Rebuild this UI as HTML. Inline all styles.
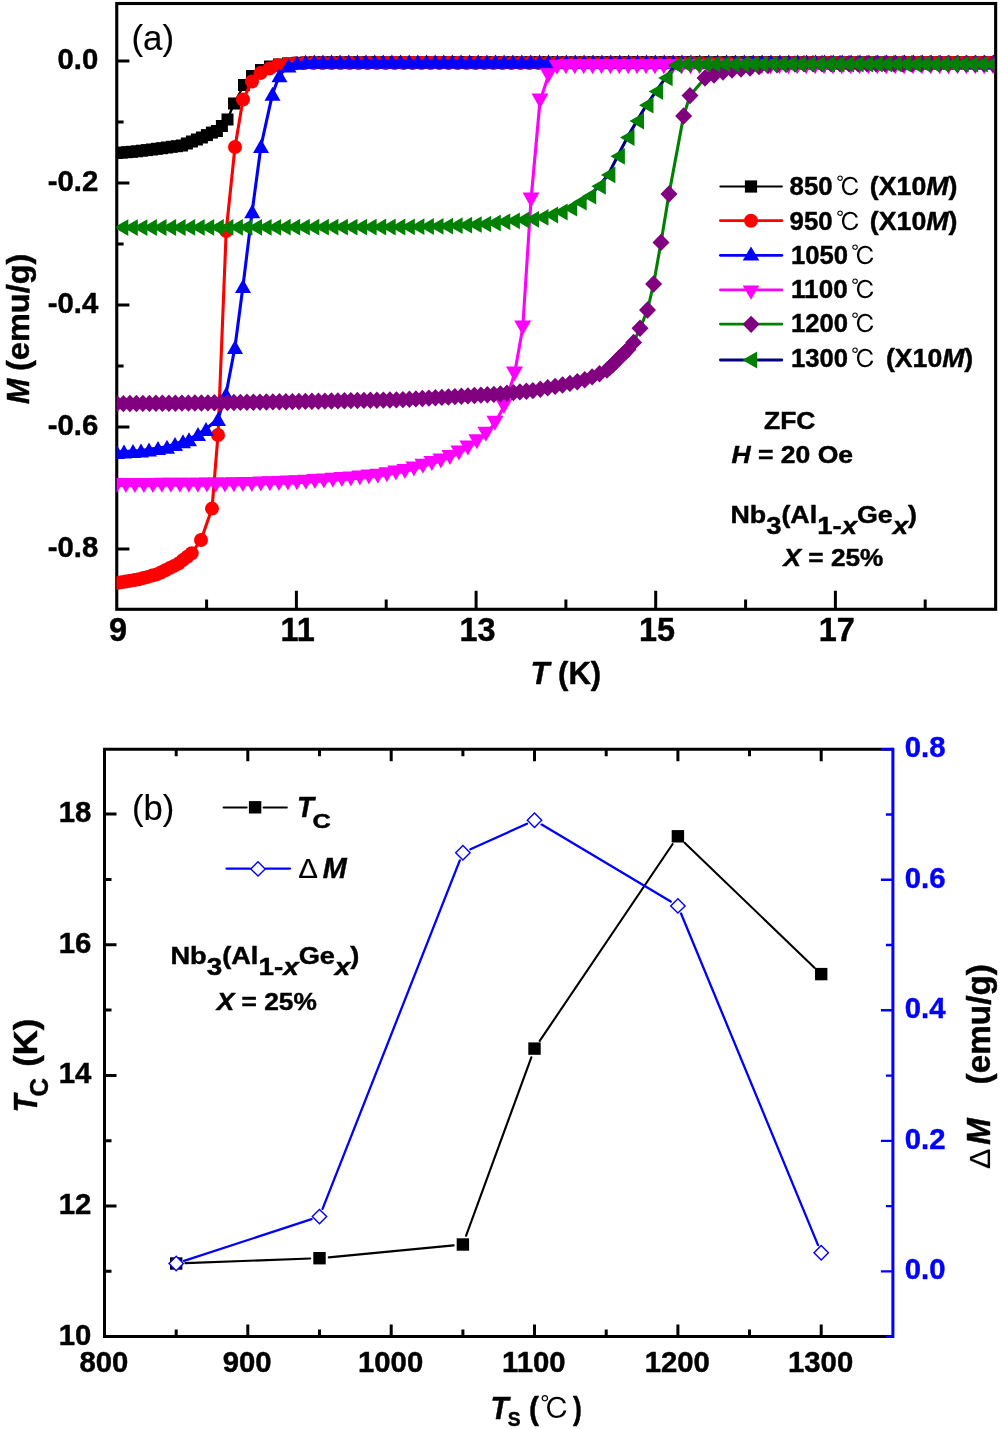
<!DOCTYPE html><html><head><meta charset="utf-8"><title>Figure</title><style>
html,body{margin:0;padding:0;background:#fff}
#fig{position:relative;width:1000px;height:1429px;overflow:hidden;background:#fff;font-family:"Liberation Sans","Noto Serif CJK SC",sans-serif;color:#000}
#fig svg{display:block}
</style></head><body><div id="fig"><svg width="1000" height="1429" viewBox="0 0 1000 1429" style="position:absolute;left:0;top:0"><defs><clipPath id="ca"><rect x="116.6" y="0" width="877.8" height="612"/></clipPath></defs><rect width="1000" height="1429" fill="#fff"/><rect x="116.75" y="3.5" width="878.9" height="605.8" fill="none" stroke="#000" stroke-width="3.1"/><path d="M116.8 61h12.6M116.8 122h6.8M116.8 183h12.6M116.8 244h6.8M116.8 305h12.6M116.8 366h6.8M116.8 427h12.6M116.8 549h12.6M206.6 609.3v-9.8M296.4 609.3v-18.6M386.2 609.3v-9.8M476.1 609.3v-18.6M565.9 609.3v-9.8M655.7 609.3v-18.6M745.6 609.3v-9.8M835.4 609.3v-18.6M925.2 609.3v-9.8" stroke="#000" stroke-width="3" fill="none"/><g clip-path="url(#ca)"><polyline points="116.9,153 121.9,152.6 126.9,152.2 131.9,151.8 136.9,151.3 141.9,150.7 146.9,150.1 151.9,149.5 156.9,148.8 161.9,148.2 166.9,147.5 171.9,146.8 176.9,146.2 181.9,145.5 186.9,143.5 191.9,141.5 196.9,139.5 201.9,137.5 206.9,135.1 211.9,132.6 216.9,131 221.9,126 227.5,119.5 234,103.5 244,85 252,76 261,70 270,66.5 279,64.5 288,63.4 297,62.9 306,62.5 315,62.3 324,62.3 333,62.3 342,62.3 351,62.3 360,62.3 369,62.3 378,62.3 387,62.3 396,62.3 405,62.3 414,62.3 423,62.3 432,62.3 441,62.3 450,62.3 459,62.3 468,62.3 477,62.3 486,62.3 495,62.3 504,62.3 513,62.3 522,62.3 531,62.3 540,62.3 549,62.3 558,62.3 567,62.3 576,62.3 585,62.3 594,62.2 603,62.2 612,62.2 621,62.2 630,62.2 639,62.2 648,62.2 657,62.2 666,62.2 675,62.2 684,62.2 693,62.2 702,62.2 711,62.2 720,62.2 729,62.2 738,62.2 747,62.2 756,62.2 765,62.2 774,62.2 783,62.2 792,62.2 801,62.2 810,62.2 819,62.2 828,62.2 837,62.2 846,62.2 855,62.2 864,62.2 873,62.2 882,62.2 891,62.2 900,62.2 909,62.2 918,62.2 927,62.2 936,62.2 945,62.2 954,62.2 963,62.2 972,62.2 981,62.2 990,62.2 999,62.2 1008,62.2" fill="none" stroke="#000" stroke-width="2.4" stroke-linejoin="round"/><rect x="110.9" y="147" width="12" height="12" fill="#000"/><rect x="115.9" y="146.6" width="12" height="12" fill="#000"/><rect x="120.9" y="146.2" width="12" height="12" fill="#000"/><rect x="125.9" y="145.8" width="12" height="12" fill="#000"/><rect x="130.9" y="145.3" width="12" height="12" fill="#000"/><rect x="135.9" y="144.7" width="12" height="12" fill="#000"/><rect x="140.9" y="144.1" width="12" height="12" fill="#000"/><rect x="145.9" y="143.5" width="12" height="12" fill="#000"/><rect x="150.9" y="142.8" width="12" height="12" fill="#000"/><rect x="155.9" y="142.2" width="12" height="12" fill="#000"/><rect x="160.9" y="141.5" width="12" height="12" fill="#000"/><rect x="165.9" y="140.8" width="12" height="12" fill="#000"/><rect x="170.9" y="140.2" width="12" height="12" fill="#000"/><rect x="175.9" y="139.5" width="12" height="12" fill="#000"/><rect x="180.9" y="137.5" width="12" height="12" fill="#000"/><rect x="185.9" y="135.5" width="12" height="12" fill="#000"/><rect x="190.9" y="133.5" width="12" height="12" fill="#000"/><rect x="195.9" y="131.5" width="12" height="12" fill="#000"/><rect x="200.9" y="129.1" width="12" height="12" fill="#000"/><rect x="205.9" y="126.6" width="12" height="12" fill="#000"/><rect x="210.9" y="125" width="12" height="12" fill="#000"/><rect x="215.9" y="120" width="12" height="12" fill="#000"/><rect x="221.5" y="113.5" width="12" height="12" fill="#000"/><rect x="228" y="97.5" width="12" height="12" fill="#000"/><rect x="238" y="79" width="12" height="12" fill="#000"/><rect x="246" y="70" width="12" height="12" fill="#000"/><rect x="255" y="64" width="12" height="12" fill="#000"/><rect x="264" y="60.5" width="12" height="12" fill="#000"/><rect x="273" y="58.5" width="12" height="12" fill="#000"/><rect x="282" y="57.4" width="12" height="12" fill="#000"/><rect x="291" y="56.9" width="12" height="12" fill="#000"/><rect x="300" y="56.5" width="12" height="12" fill="#000"/><rect x="309" y="56.3" width="12" height="12" fill="#000"/><rect x="318" y="56.3" width="12" height="12" fill="#000"/><rect x="327" y="56.3" width="12" height="12" fill="#000"/><rect x="336" y="56.3" width="12" height="12" fill="#000"/><rect x="345" y="56.3" width="12" height="12" fill="#000"/><rect x="354" y="56.3" width="12" height="12" fill="#000"/><rect x="363" y="56.3" width="12" height="12" fill="#000"/><rect x="372" y="56.3" width="12" height="12" fill="#000"/><rect x="381" y="56.3" width="12" height="12" fill="#000"/><rect x="390" y="56.3" width="12" height="12" fill="#000"/><rect x="399" y="56.3" width="12" height="12" fill="#000"/><rect x="408" y="56.3" width="12" height="12" fill="#000"/><rect x="417" y="56.3" width="12" height="12" fill="#000"/><rect x="426" y="56.3" width="12" height="12" fill="#000"/><rect x="435" y="56.3" width="12" height="12" fill="#000"/><rect x="444" y="56.3" width="12" height="12" fill="#000"/><rect x="453" y="56.3" width="12" height="12" fill="#000"/><rect x="462" y="56.3" width="12" height="12" fill="#000"/><rect x="471" y="56.3" width="12" height="12" fill="#000"/><rect x="480" y="56.3" width="12" height="12" fill="#000"/><rect x="489" y="56.3" width="12" height="12" fill="#000"/><rect x="498" y="56.3" width="12" height="12" fill="#000"/><rect x="507" y="56.3" width="12" height="12" fill="#000"/><rect x="516" y="56.3" width="12" height="12" fill="#000"/><rect x="525" y="56.3" width="12" height="12" fill="#000"/><rect x="534" y="56.3" width="12" height="12" fill="#000"/><rect x="543" y="56.3" width="12" height="12" fill="#000"/><rect x="552" y="56.3" width="12" height="12" fill="#000"/><rect x="561" y="56.3" width="12" height="12" fill="#000"/><rect x="570" y="56.3" width="12" height="12" fill="#000"/><rect x="579" y="56.3" width="12" height="12" fill="#000"/><rect x="588" y="56.2" width="12" height="12" fill="#000"/><rect x="597" y="56.2" width="12" height="12" fill="#000"/><rect x="606" y="56.2" width="12" height="12" fill="#000"/><rect x="615" y="56.2" width="12" height="12" fill="#000"/><rect x="624" y="56.2" width="12" height="12" fill="#000"/><rect x="633" y="56.2" width="12" height="12" fill="#000"/><rect x="642" y="56.2" width="12" height="12" fill="#000"/><rect x="651" y="56.2" width="12" height="12" fill="#000"/><rect x="660" y="56.2" width="12" height="12" fill="#000"/><rect x="669" y="56.2" width="12" height="12" fill="#000"/><rect x="678" y="56.2" width="12" height="12" fill="#000"/><rect x="687" y="56.2" width="12" height="12" fill="#000"/><rect x="696" y="56.2" width="12" height="12" fill="#000"/><rect x="705" y="56.2" width="12" height="12" fill="#000"/><rect x="714" y="56.2" width="12" height="12" fill="#000"/><rect x="723" y="56.2" width="12" height="12" fill="#000"/><rect x="732" y="56.2" width="12" height="12" fill="#000"/><rect x="741" y="56.2" width="12" height="12" fill="#000"/><rect x="750" y="56.2" width="12" height="12" fill="#000"/><rect x="759" y="56.2" width="12" height="12" fill="#000"/><rect x="768" y="56.2" width="12" height="12" fill="#000"/><rect x="777" y="56.2" width="12" height="12" fill="#000"/><rect x="786" y="56.2" width="12" height="12" fill="#000"/><rect x="795" y="56.2" width="12" height="12" fill="#000"/><rect x="804" y="56.2" width="12" height="12" fill="#000"/><rect x="813" y="56.2" width="12" height="12" fill="#000"/><rect x="822" y="56.2" width="12" height="12" fill="#000"/><rect x="831" y="56.2" width="12" height="12" fill="#000"/><rect x="840" y="56.2" width="12" height="12" fill="#000"/><rect x="849" y="56.2" width="12" height="12" fill="#000"/><rect x="858" y="56.2" width="12" height="12" fill="#000"/><rect x="867" y="56.2" width="12" height="12" fill="#000"/><rect x="876" y="56.2" width="12" height="12" fill="#000"/><rect x="885" y="56.2" width="12" height="12" fill="#000"/><rect x="894" y="56.2" width="12" height="12" fill="#000"/><rect x="903" y="56.2" width="12" height="12" fill="#000"/><rect x="912" y="56.2" width="12" height="12" fill="#000"/><rect x="921" y="56.2" width="12" height="12" fill="#000"/><rect x="930" y="56.2" width="12" height="12" fill="#000"/><rect x="939" y="56.2" width="12" height="12" fill="#000"/><rect x="948" y="56.2" width="12" height="12" fill="#000"/><rect x="957" y="56.2" width="12" height="12" fill="#000"/><rect x="966" y="56.2" width="12" height="12" fill="#000"/><rect x="975" y="56.2" width="12" height="12" fill="#000"/><rect x="984" y="56.2" width="12" height="12" fill="#000"/><rect x="993" y="56.2" width="12" height="12" fill="#000"/><rect x="1002" y="56.2" width="12" height="12" fill="#000"/><polyline points="116.9,583 121.3,582.2 125.7,581.5 130.1,580.7 134.5,580 138.9,579.2 143.3,578.1 147.7,576.9 152.1,575.6 156.5,574.4 160.9,572.5 165.3,570.3 169.7,568.1 174.1,565.9 178.5,563.6 182.9,560.1 187.3,556.7 191.7,553.2 201,540 212,508.6 218,435 226.2,231 235,147 243,99.5 252,81.5 260.5,73 269.5,68.5 277.5,65.3 286.5,64 295.5,63.3 304.5,63.1 313.5,63 322.5,63 331.5,63 340.5,63 349.5,63 358.5,63 367.5,63 376.5,63 385.5,63 394.5,63 403.5,63 412.5,63 421.5,63 430.5,63 439.5,63 448.5,63 457.5,63 466.5,63 475.5,63 484.5,63 493.5,63 502.5,63 511.5,63 520.5,63 529.5,63 538.5,63 547.5,63 556.5,63 565.5,63 574.5,63 583.5,63 592.5,63 601.5,63 610.5,63 619.5,63 628.5,63 637.5,63 646.5,63 655.5,63 664.5,63 673.5,63 682.5,63 691.5,63 700.5,63 709.5,63 718.5,63 727.5,63 736.5,63 745.5,63 754.5,63 763.5,63 772.5,63 781.5,63 790.5,63 799.5,63 808.5,63 817.5,63 826.5,63 835.5,63 844.5,63 853.5,63 862.5,63 871.5,63 880.5,63 889.5,63 898.5,63 907.5,63 916.5,63 925.5,63 934.5,63 943.5,63 952.5,63 961.5,63 970.5,63 979.5,63 988.5,63 997.5,63 1006.5,63" fill="none" stroke="#f00" stroke-width="3.1" stroke-linejoin="round"/><circle cx="116.9" cy="583" r="7" fill="#f00"/><circle cx="121.3" cy="582.2" r="7" fill="#f00"/><circle cx="125.7" cy="581.5" r="7" fill="#f00"/><circle cx="130.1" cy="580.7" r="7" fill="#f00"/><circle cx="134.5" cy="580" r="7" fill="#f00"/><circle cx="138.9" cy="579.2" r="7" fill="#f00"/><circle cx="143.3" cy="578.1" r="7" fill="#f00"/><circle cx="147.7" cy="576.9" r="7" fill="#f00"/><circle cx="152.1" cy="575.6" r="7" fill="#f00"/><circle cx="156.5" cy="574.4" r="7" fill="#f00"/><circle cx="160.9" cy="572.5" r="7" fill="#f00"/><circle cx="165.3" cy="570.3" r="7" fill="#f00"/><circle cx="169.7" cy="568.1" r="7" fill="#f00"/><circle cx="174.1" cy="565.9" r="7" fill="#f00"/><circle cx="178.5" cy="563.6" r="7" fill="#f00"/><circle cx="182.9" cy="560.1" r="7" fill="#f00"/><circle cx="187.3" cy="556.7" r="7" fill="#f00"/><circle cx="191.7" cy="553.2" r="7" fill="#f00"/><circle cx="201" cy="540" r="7" fill="#f00"/><circle cx="212" cy="508.6" r="7" fill="#f00"/><circle cx="218" cy="435" r="7" fill="#f00"/><circle cx="226.2" cy="231" r="7" fill="#f00"/><circle cx="235" cy="147" r="7" fill="#f00"/><circle cx="243" cy="99.5" r="7" fill="#f00"/><circle cx="252" cy="81.5" r="7" fill="#f00"/><circle cx="260.5" cy="73" r="7" fill="#f00"/><circle cx="269.5" cy="68.5" r="7" fill="#f00"/><circle cx="277.5" cy="65.3" r="7" fill="#f00"/><circle cx="286.5" cy="64" r="7" fill="#f00"/><circle cx="295.5" cy="63.3" r="7" fill="#f00"/><circle cx="304.5" cy="63.1" r="7" fill="#f00"/><circle cx="313.5" cy="63" r="7" fill="#f00"/><circle cx="322.5" cy="63" r="7" fill="#f00"/><circle cx="331.5" cy="63" r="7" fill="#f00"/><circle cx="340.5" cy="63" r="7" fill="#f00"/><circle cx="349.5" cy="63" r="7" fill="#f00"/><circle cx="358.5" cy="63" r="7" fill="#f00"/><circle cx="367.5" cy="63" r="7" fill="#f00"/><circle cx="376.5" cy="63" r="7" fill="#f00"/><circle cx="385.5" cy="63" r="7" fill="#f00"/><circle cx="394.5" cy="63" r="7" fill="#f00"/><circle cx="403.5" cy="63" r="7" fill="#f00"/><circle cx="412.5" cy="63" r="7" fill="#f00"/><circle cx="421.5" cy="63" r="7" fill="#f00"/><circle cx="430.5" cy="63" r="7" fill="#f00"/><circle cx="439.5" cy="63" r="7" fill="#f00"/><circle cx="448.5" cy="63" r="7" fill="#f00"/><circle cx="457.5" cy="63" r="7" fill="#f00"/><circle cx="466.5" cy="63" r="7" fill="#f00"/><circle cx="475.5" cy="63" r="7" fill="#f00"/><circle cx="484.5" cy="63" r="7" fill="#f00"/><circle cx="493.5" cy="63" r="7" fill="#f00"/><circle cx="502.5" cy="63" r="7" fill="#f00"/><circle cx="511.5" cy="63" r="7" fill="#f00"/><circle cx="520.5" cy="63" r="7" fill="#f00"/><circle cx="529.5" cy="63" r="7" fill="#f00"/><circle cx="538.5" cy="63" r="7" fill="#f00"/><circle cx="547.5" cy="63" r="7" fill="#f00"/><circle cx="556.5" cy="63" r="7" fill="#f00"/><circle cx="565.5" cy="63" r="7" fill="#f00"/><circle cx="574.5" cy="63" r="7" fill="#f00"/><circle cx="583.5" cy="63" r="7" fill="#f00"/><circle cx="592.5" cy="63" r="7" fill="#f00"/><circle cx="601.5" cy="63" r="7" fill="#f00"/><circle cx="610.5" cy="63" r="7" fill="#f00"/><circle cx="619.5" cy="63" r="7" fill="#f00"/><circle cx="628.5" cy="63" r="7" fill="#f00"/><circle cx="637.5" cy="63" r="7" fill="#f00"/><circle cx="646.5" cy="63" r="7" fill="#f00"/><circle cx="655.5" cy="63" r="7" fill="#f00"/><circle cx="664.5" cy="63" r="7" fill="#f00"/><circle cx="673.5" cy="63" r="7" fill="#f00"/><circle cx="682.5" cy="63" r="7" fill="#f00"/><circle cx="691.5" cy="63" r="7" fill="#f00"/><circle cx="700.5" cy="63" r="7" fill="#f00"/><circle cx="709.5" cy="63" r="7" fill="#f00"/><circle cx="718.5" cy="63" r="7" fill="#f00"/><circle cx="727.5" cy="63" r="7" fill="#f00"/><circle cx="736.5" cy="63" r="7" fill="#f00"/><circle cx="745.5" cy="63" r="7" fill="#f00"/><circle cx="754.5" cy="63" r="7" fill="#f00"/><circle cx="763.5" cy="63" r="7" fill="#f00"/><circle cx="772.5" cy="63" r="7" fill="#f00"/><circle cx="781.5" cy="63" r="7" fill="#f00"/><circle cx="790.5" cy="63" r="7" fill="#f00"/><circle cx="799.5" cy="63" r="7" fill="#f00"/><circle cx="808.5" cy="63" r="7" fill="#f00"/><circle cx="817.5" cy="63" r="7" fill="#f00"/><circle cx="826.5" cy="63" r="7" fill="#f00"/><circle cx="835.5" cy="63" r="7" fill="#f00"/><circle cx="844.5" cy="63" r="7" fill="#f00"/><circle cx="853.5" cy="63" r="7" fill="#f00"/><circle cx="862.5" cy="63" r="7" fill="#f00"/><circle cx="871.5" cy="63" r="7" fill="#f00"/><circle cx="880.5" cy="63" r="7" fill="#f00"/><circle cx="889.5" cy="63" r="7" fill="#f00"/><circle cx="898.5" cy="63" r="7" fill="#f00"/><circle cx="907.5" cy="63" r="7" fill="#f00"/><circle cx="916.5" cy="63" r="7" fill="#f00"/><circle cx="925.5" cy="63" r="7" fill="#f00"/><circle cx="934.5" cy="63" r="7" fill="#f00"/><circle cx="943.5" cy="63" r="7" fill="#f00"/><circle cx="952.5" cy="63" r="7" fill="#f00"/><circle cx="961.5" cy="63" r="7" fill="#f00"/><circle cx="970.5" cy="63" r="7" fill="#f00"/><circle cx="979.5" cy="63" r="7" fill="#f00"/><circle cx="988.5" cy="63" r="7" fill="#f00"/><circle cx="997.5" cy="63" r="7" fill="#f00"/><circle cx="1006.5" cy="63" r="7" fill="#f00"/><polyline points="116.9,452 124,451.6 133,451 141,450.5 149,449.4 158,448.1 167,446.7 175,444 183,441.3 189,439.3 198,434 206,429 218,419 226,394 235,347 243,286 252.2,211.2 261,146 272.5,93.8 279.5,75.3 288.5,65.5 297,62.7 305.6,61.8 314.3,61.4 322.9,61.4 331.5,61.4 340.1,61.4 348.8,61.4 357.4,61.4 366,61.4 374.7,61.4 383.3,61.4 391.9,61.4 400.6,61.4 409.2,61.4 417.8,61.4 426.5,61.4 435.1,61.4 443.7,61.4 452.3,61.4 461,61.4 469.6,61.4 478.2,61.4 486.9,61.4 495.5,61.4 504.1,61.4 512.9,61.4 521.8,61.4 530.7,61.4 539.6,61.4 548.5,61.4 557.4,61.4 566.3,61.4 575.2,61.4 584.1,61.4 593,61.4 601.9,61.4 610.8,61.4 619.7,61.4 628.6,61.4 637.5,61.4 646.4,61.4 655.3,61.4 664.2,61.4 673.1,61.4 682,61.4 690.9,61.4 699.8,61.4 708.7,61.4 717.6,61.4 726.5,61.4 735.4,61.4 744.3,61.4 753.2,61.4 762.1,61.4 771,61.4 779.9,61.4 788.8,61.4 797.7,61.4 806.6,61.4 815.5,61.4 824.4,61.4 833.3,61.4 842.2,61.4 851.1,61.4 860,61.4 868.9,61.4 877.8,61.4 886.7,61.4 895.6,61.4 904.5,61.4 913.4,61.4 922.3,61.4 931.2,61.4 940.1,61.4 949,61.4 957.9,61.4 966.8,61.4 975.7,61.4 984.6,61.4 993.5,61.4 1002.4,61.4" fill="none" stroke="#00f" stroke-width="3.1" stroke-linejoin="round"/><path d="M108.9 459L124.9 459L116.9 445Z" fill="#00f"/><path d="M116 458.6L132 458.6L124 444.6Z" fill="#00f"/><path d="M125 458L141 458L133 444Z" fill="#00f"/><path d="M133 457.5L149 457.5L141 443.5Z" fill="#00f"/><path d="M141 456.4L157 456.4L149 442.4Z" fill="#00f"/><path d="M150 455.1L166 455.1L158 441.1Z" fill="#00f"/><path d="M159 453.7L175 453.7L167 439.7Z" fill="#00f"/><path d="M167 451L183 451L175 437Z" fill="#00f"/><path d="M175 448.3L191 448.3L183 434.3Z" fill="#00f"/><path d="M181 446.3L197 446.3L189 432.3Z" fill="#00f"/><path d="M190 441L206 441L198 427Z" fill="#00f"/><path d="M198 436L214 436L206 422Z" fill="#00f"/><path d="M210 426L226 426L218 412Z" fill="#00f"/><path d="M218 401L234 401L226 387Z" fill="#00f"/><path d="M227 354L243 354L235 340Z" fill="#00f"/><path d="M235 293L251 293L243 279Z" fill="#00f"/><path d="M244.2 218.2L260.2 218.2L252.2 204.2Z" fill="#00f"/><path d="M253 153L269 153L261 139Z" fill="#00f"/><path d="M264.5 100.8L280.5 100.8L272.5 86.8Z" fill="#00f"/><path d="M271.5 82.3L287.5 82.3L279.5 68.3Z" fill="#00f"/><path d="M280.5 72.5L296.5 72.5L288.5 58.5Z" fill="#00f"/><path d="M289 69.7L305 69.7L297 55.7Z" fill="#00f"/><path d="M297.6 68.8L313.6 68.8L305.6 54.8Z" fill="#00f"/><path d="M306.3 68.4L322.3 68.4L314.3 54.4Z" fill="#00f"/><path d="M314.9 68.4L330.9 68.4L322.9 54.4Z" fill="#00f"/><path d="M323.5 68.4L339.5 68.4L331.5 54.4Z" fill="#00f"/><path d="M332.1 68.4L348.1 68.4L340.1 54.4Z" fill="#00f"/><path d="M340.8 68.4L356.8 68.4L348.8 54.4Z" fill="#00f"/><path d="M349.4 68.4L365.4 68.4L357.4 54.4Z" fill="#00f"/><path d="M358 68.4L374 68.4L366 54.4Z" fill="#00f"/><path d="M366.7 68.4L382.7 68.4L374.7 54.4Z" fill="#00f"/><path d="M375.3 68.4L391.3 68.4L383.3 54.4Z" fill="#00f"/><path d="M383.9 68.4L399.9 68.4L391.9 54.4Z" fill="#00f"/><path d="M392.6 68.4L408.6 68.4L400.6 54.4Z" fill="#00f"/><path d="M401.2 68.4L417.2 68.4L409.2 54.4Z" fill="#00f"/><path d="M409.8 68.4L425.8 68.4L417.8 54.4Z" fill="#00f"/><path d="M418.5 68.4L434.5 68.4L426.5 54.4Z" fill="#00f"/><path d="M427.1 68.4L443.1 68.4L435.1 54.4Z" fill="#00f"/><path d="M435.7 68.4L451.7 68.4L443.7 54.4Z" fill="#00f"/><path d="M444.3 68.4L460.3 68.4L452.3 54.4Z" fill="#00f"/><path d="M453 68.4L469 68.4L461 54.4Z" fill="#00f"/><path d="M461.6 68.4L477.6 68.4L469.6 54.4Z" fill="#00f"/><path d="M470.2 68.4L486.2 68.4L478.2 54.4Z" fill="#00f"/><path d="M478.9 68.4L494.9 68.4L486.9 54.4Z" fill="#00f"/><path d="M487.5 68.4L503.5 68.4L495.5 54.4Z" fill="#00f"/><path d="M496.1 68.4L512.1 68.4L504.1 54.4Z" fill="#00f"/><path d="M504.9 68.4L520.9 68.4L512.9 54.4Z" fill="#00f"/><path d="M513.8 68.4L529.8 68.4L521.8 54.4Z" fill="#00f"/><path d="M522.7 68.4L538.7 68.4L530.7 54.4Z" fill="#00f"/><path d="M531.6 68.4L547.6 68.4L539.6 54.4Z" fill="#00f"/><path d="M540.5 68.4L556.5 68.4L548.5 54.4Z" fill="#00f"/><path d="M549.4 68.4L565.4 68.4L557.4 54.4Z" fill="#00f"/><path d="M558.3 68.4L574.3 68.4L566.3 54.4Z" fill="#00f"/><path d="M567.2 68.4L583.2 68.4L575.2 54.4Z" fill="#00f"/><path d="M576.1 68.4L592.1 68.4L584.1 54.4Z" fill="#00f"/><path d="M585 68.4L601 68.4L593 54.4Z" fill="#00f"/><path d="M593.9 68.4L609.9 68.4L601.9 54.4Z" fill="#00f"/><path d="M602.8 68.4L618.8 68.4L610.8 54.4Z" fill="#00f"/><path d="M611.7 68.4L627.7 68.4L619.7 54.4Z" fill="#00f"/><path d="M620.6 68.4L636.6 68.4L628.6 54.4Z" fill="#00f"/><path d="M629.5 68.4L645.5 68.4L637.5 54.4Z" fill="#00f"/><path d="M638.4 68.4L654.4 68.4L646.4 54.4Z" fill="#00f"/><path d="M647.3 68.4L663.3 68.4L655.3 54.4Z" fill="#00f"/><path d="M656.2 68.4L672.2 68.4L664.2 54.4Z" fill="#00f"/><path d="M665.1 68.4L681.1 68.4L673.1 54.4Z" fill="#00f"/><path d="M674 68.4L690 68.4L682 54.4Z" fill="#00f"/><path d="M682.9 68.4L698.9 68.4L690.9 54.4Z" fill="#00f"/><path d="M691.8 68.4L707.8 68.4L699.8 54.4Z" fill="#00f"/><path d="M700.7 68.4L716.7 68.4L708.7 54.4Z" fill="#00f"/><path d="M709.6 68.4L725.6 68.4L717.6 54.4Z" fill="#00f"/><path d="M718.5 68.4L734.5 68.4L726.5 54.4Z" fill="#00f"/><path d="M727.4 68.4L743.4 68.4L735.4 54.4Z" fill="#00f"/><path d="M736.3 68.4L752.3 68.4L744.3 54.4Z" fill="#00f"/><path d="M745.2 68.4L761.2 68.4L753.2 54.4Z" fill="#00f"/><path d="M754.1 68.4L770.1 68.4L762.1 54.4Z" fill="#00f"/><path d="M763 68.4L779 68.4L771 54.4Z" fill="#00f"/><path d="M771.9 68.4L787.9 68.4L779.9 54.4Z" fill="#00f"/><path d="M780.8 68.4L796.8 68.4L788.8 54.4Z" fill="#00f"/><path d="M789.7 68.4L805.7 68.4L797.7 54.4Z" fill="#00f"/><path d="M798.6 68.4L814.6 68.4L806.6 54.4Z" fill="#00f"/><path d="M807.5 68.4L823.5 68.4L815.5 54.4Z" fill="#00f"/><path d="M816.4 68.4L832.4 68.4L824.4 54.4Z" fill="#00f"/><path d="M825.3 68.4L841.3 68.4L833.3 54.4Z" fill="#00f"/><path d="M834.2 68.4L850.2 68.4L842.2 54.4Z" fill="#00f"/><path d="M843.1 68.4L859.1 68.4L851.1 54.4Z" fill="#00f"/><path d="M852 68.4L868 68.4L860 54.4Z" fill="#00f"/><path d="M860.9 68.4L876.9 68.4L868.9 54.4Z" fill="#00f"/><path d="M869.8 68.4L885.8 68.4L877.8 54.4Z" fill="#00f"/><path d="M878.7 68.4L894.7 68.4L886.7 54.4Z" fill="#00f"/><path d="M887.6 68.4L903.6 68.4L895.6 54.4Z" fill="#00f"/><path d="M896.5 68.4L912.5 68.4L904.5 54.4Z" fill="#00f"/><path d="M905.4 68.4L921.4 68.4L913.4 54.4Z" fill="#00f"/><path d="M914.3 68.4L930.3 68.4L922.3 54.4Z" fill="#00f"/><path d="M923.2 68.4L939.2 68.4L931.2 54.4Z" fill="#00f"/><path d="M932.1 68.4L948.1 68.4L940.1 54.4Z" fill="#00f"/><path d="M941 68.4L957 68.4L949 54.4Z" fill="#00f"/><path d="M949.9 68.4L965.9 68.4L957.9 54.4Z" fill="#00f"/><path d="M958.8 68.4L974.8 68.4L966.8 54.4Z" fill="#00f"/><path d="M967.7 68.4L983.7 68.4L975.7 54.4Z" fill="#00f"/><path d="M976.6 68.4L992.6 68.4L984.6 54.4Z" fill="#00f"/><path d="M985.5 68.4L1001.5 68.4L993.5 54.4Z" fill="#00f"/><path d="M994.4 68.4L1010.4 68.4L1002.4 54.4Z" fill="#00f"/><polyline points="116.9,485.5 125.9,485.5 134.9,485.4 143.9,485.4 152.9,485.4 161.9,485.3 170.9,485.3 179.9,485.3 188.9,485.2 197.9,485.2 206.9,485.1 215.9,485 224.9,484.9 233.9,484.7 242.9,484.6 251.9,484.4 260.9,484.1 269.9,483.8 278.9,483.5 287.9,483.1 296.9,482.8 305.9,482.3 314.9,481.6 323.9,480.9 332.9,480.3 341.9,479.6 350.9,478.9 359.9,478 368.9,477.1 377.9,476.2 386.9,474.8 395.9,473.1 404.9,471.5 413.9,469 422.9,466.3 431.9,463.6 440.9,460.9 449.9,457.4 458.9,453.1 467.9,448.1 476.9,441.8 485.9,434.2 494.9,423.2 503.9,406.6 514.5,374 522.7,328 531,200 540,101 548.4,75.7 557,67.2 565.9,66.8 574.8,66.8 583.7,66.8 592.6,66.8 601.5,66.8 610.4,66.8 619.3,66.8 628.2,66.8 637.1,66.8 646,66.8 654.9,66.8 663.8,66.8 672.7,66.8 681.6,66.8 690.5,66.8 699.4,66.8 708.3,66.8 717.2,66.8 726.1,66.8 735,66.8 743.9,66.8 752.8,66.8 761.7,66.8 770.6,66.8 779.5,66.8 788.4,66.8 797.3,66.8 806.2,66.8 815.1,66.8 824,66.8 832.9,66.8 841.8,66.8 850.7,66.8 859.6,66.8 868.5,66.8 877.4,66.8 886.3,66.8 895.2,66.8 904.1,66.8 913,66.8 921.9,66.8 930.8,66.7 939.7,66.7 948.6,66.7 957.5,66.7 966.4,66.7 975.3,66.7 984.2,66.7 993.1,66.7 1002,66.7" fill="none" stroke="#f0f" stroke-width="3.1" stroke-linejoin="round"/><path d="M108.4 478L125.4 478L116.9 493Z" fill="#f0f"/><path d="M117.4 478L134.4 478L125.9 493Z" fill="#f0f"/><path d="M126.4 477.9L143.4 477.9L134.9 492.9Z" fill="#f0f"/><path d="M135.4 477.9L152.4 477.9L143.9 492.9Z" fill="#f0f"/><path d="M144.4 477.9L161.4 477.9L152.9 492.9Z" fill="#f0f"/><path d="M153.4 477.8L170.4 477.8L161.9 492.8Z" fill="#f0f"/><path d="M162.4 477.8L179.4 477.8L170.9 492.8Z" fill="#f0f"/><path d="M171.4 477.8L188.4 477.8L179.9 492.8Z" fill="#f0f"/><path d="M180.4 477.7L197.4 477.7L188.9 492.7Z" fill="#f0f"/><path d="M189.4 477.7L206.4 477.7L197.9 492.7Z" fill="#f0f"/><path d="M198.4 477.6L215.4 477.6L206.9 492.6Z" fill="#f0f"/><path d="M207.4 477.5L224.4 477.5L215.9 492.5Z" fill="#f0f"/><path d="M216.4 477.4L233.4 477.4L224.9 492.4Z" fill="#f0f"/><path d="M225.4 477.2L242.4 477.2L233.9 492.2Z" fill="#f0f"/><path d="M234.4 477.1L251.4 477.1L242.9 492.1Z" fill="#f0f"/><path d="M243.4 476.9L260.4 476.9L251.9 491.9Z" fill="#f0f"/><path d="M252.4 476.6L269.4 476.6L260.9 491.6Z" fill="#f0f"/><path d="M261.4 476.3L278.4 476.3L269.9 491.3Z" fill="#f0f"/><path d="M270.4 476L287.4 476L278.9 491Z" fill="#f0f"/><path d="M279.4 475.6L296.4 475.6L287.9 490.6Z" fill="#f0f"/><path d="M288.4 475.3L305.4 475.3L296.9 490.3Z" fill="#f0f"/><path d="M297.4 474.8L314.4 474.8L305.9 489.8Z" fill="#f0f"/><path d="M306.4 474.1L323.4 474.1L314.9 489.1Z" fill="#f0f"/><path d="M315.4 473.4L332.4 473.4L323.9 488.4Z" fill="#f0f"/><path d="M324.4 472.8L341.4 472.8L332.9 487.8Z" fill="#f0f"/><path d="M333.4 472.1L350.4 472.1L341.9 487.1Z" fill="#f0f"/><path d="M342.4 471.4L359.4 471.4L350.9 486.4Z" fill="#f0f"/><path d="M351.4 470.5L368.4 470.5L359.9 485.5Z" fill="#f0f"/><path d="M360.4 469.6L377.4 469.6L368.9 484.6Z" fill="#f0f"/><path d="M369.4 468.7L386.4 468.7L377.9 483.7Z" fill="#f0f"/><path d="M378.4 467.3L395.4 467.3L386.9 482.3Z" fill="#f0f"/><path d="M387.4 465.6L404.4 465.6L395.9 480.6Z" fill="#f0f"/><path d="M396.4 464L413.4 464L404.9 479Z" fill="#f0f"/><path d="M405.4 461.5L422.4 461.5L413.9 476.5Z" fill="#f0f"/><path d="M414.4 458.8L431.4 458.8L422.9 473.8Z" fill="#f0f"/><path d="M423.4 456.1L440.4 456.1L431.9 471.1Z" fill="#f0f"/><path d="M432.4 453.4L449.4 453.4L440.9 468.4Z" fill="#f0f"/><path d="M441.4 449.9L458.4 449.9L449.9 464.9Z" fill="#f0f"/><path d="M450.4 445.6L467.4 445.6L458.9 460.6Z" fill="#f0f"/><path d="M459.4 440.6L476.4 440.6L467.9 455.6Z" fill="#f0f"/><path d="M468.4 434.3L485.4 434.3L476.9 449.3Z" fill="#f0f"/><path d="M477.4 426.7L494.4 426.7L485.9 441.7Z" fill="#f0f"/><path d="M486.4 415.7L503.4 415.7L494.9 430.7Z" fill="#f0f"/><path d="M495.4 399.1L512.4 399.1L503.9 414.1Z" fill="#f0f"/><path d="M506 366.5L523 366.5L514.5 381.5Z" fill="#f0f"/><path d="M514.2 320.5L531.2 320.5L522.7 335.5Z" fill="#f0f"/><path d="M522.5 192.5L539.5 192.5L531 207.5Z" fill="#f0f"/><path d="M531.5 93.5L548.5 93.5L540 108.5Z" fill="#f0f"/><path d="M539.9 68.2L556.9 68.2L548.4 83.2Z" fill="#f0f"/><path d="M548.5 59.7L565.5 59.7L557 74.7Z" fill="#f0f"/><path d="M557.4 59.3L574.4 59.3L565.9 74.3Z" fill="#f0f"/><path d="M566.3 59.3L583.3 59.3L574.8 74.3Z" fill="#f0f"/><path d="M575.2 59.3L592.2 59.3L583.7 74.3Z" fill="#f0f"/><path d="M584.1 59.3L601.1 59.3L592.6 74.3Z" fill="#f0f"/><path d="M593 59.3L610 59.3L601.5 74.3Z" fill="#f0f"/><path d="M601.9 59.3L618.9 59.3L610.4 74.3Z" fill="#f0f"/><path d="M610.8 59.3L627.8 59.3L619.3 74.3Z" fill="#f0f"/><path d="M619.7 59.3L636.7 59.3L628.2 74.3Z" fill="#f0f"/><path d="M628.6 59.3L645.6 59.3L637.1 74.3Z" fill="#f0f"/><path d="M637.5 59.3L654.5 59.3L646 74.3Z" fill="#f0f"/><path d="M646.4 59.3L663.4 59.3L654.9 74.3Z" fill="#f0f"/><path d="M655.3 59.3L672.3 59.3L663.8 74.3Z" fill="#f0f"/><path d="M664.2 59.3L681.2 59.3L672.7 74.3Z" fill="#f0f"/><path d="M673.1 59.3L690.1 59.3L681.6 74.3Z" fill="#f0f"/><path d="M682 59.3L699 59.3L690.5 74.3Z" fill="#f0f"/><path d="M690.9 59.3L707.9 59.3L699.4 74.3Z" fill="#f0f"/><path d="M699.8 59.3L716.8 59.3L708.3 74.3Z" fill="#f0f"/><path d="M708.7 59.3L725.7 59.3L717.2 74.3Z" fill="#f0f"/><path d="M717.6 59.3L734.6 59.3L726.1 74.3Z" fill="#f0f"/><path d="M726.5 59.3L743.5 59.3L735 74.3Z" fill="#f0f"/><path d="M735.4 59.3L752.4 59.3L743.9 74.3Z" fill="#f0f"/><path d="M744.3 59.3L761.3 59.3L752.8 74.3Z" fill="#f0f"/><path d="M753.2 59.3L770.2 59.3L761.7 74.3Z" fill="#f0f"/><path d="M762.1 59.3L779.1 59.3L770.6 74.3Z" fill="#f0f"/><path d="M771 59.3L788 59.3L779.5 74.3Z" fill="#f0f"/><path d="M779.9 59.3L796.9 59.3L788.4 74.3Z" fill="#f0f"/><path d="M788.8 59.3L805.8 59.3L797.3 74.3Z" fill="#f0f"/><path d="M797.7 59.3L814.7 59.3L806.2 74.3Z" fill="#f0f"/><path d="M806.6 59.3L823.6 59.3L815.1 74.3Z" fill="#f0f"/><path d="M815.5 59.3L832.5 59.3L824 74.3Z" fill="#f0f"/><path d="M824.4 59.3L841.4 59.3L832.9 74.3Z" fill="#f0f"/><path d="M833.3 59.3L850.3 59.3L841.8 74.3Z" fill="#f0f"/><path d="M842.2 59.3L859.2 59.3L850.7 74.3Z" fill="#f0f"/><path d="M851.1 59.3L868.1 59.3L859.6 74.3Z" fill="#f0f"/><path d="M860 59.3L877 59.3L868.5 74.3Z" fill="#f0f"/><path d="M868.9 59.3L885.9 59.3L877.4 74.3Z" fill="#f0f"/><path d="M877.8 59.3L894.8 59.3L886.3 74.3Z" fill="#f0f"/><path d="M886.7 59.3L903.7 59.3L895.2 74.3Z" fill="#f0f"/><path d="M895.6 59.3L912.6 59.3L904.1 74.3Z" fill="#f0f"/><path d="M904.5 59.3L921.5 59.3L913 74.3Z" fill="#f0f"/><path d="M913.4 59.3L930.4 59.3L921.9 74.3Z" fill="#f0f"/><path d="M922.3 59.2L939.3 59.2L930.8 74.2Z" fill="#f0f"/><path d="M931.2 59.2L948.2 59.2L939.7 74.2Z" fill="#f0f"/><path d="M940.1 59.2L957.1 59.2L948.6 74.2Z" fill="#f0f"/><path d="M949 59.2L966 59.2L957.5 74.2Z" fill="#f0f"/><path d="M957.9 59.2L974.9 59.2L966.4 74.2Z" fill="#f0f"/><path d="M966.8 59.2L983.8 59.2L975.3 74.2Z" fill="#f0f"/><path d="M975.7 59.2L992.7 59.2L984.2 74.2Z" fill="#f0f"/><path d="M984.6 59.2L1001.6 59.2L993.1 74.2Z" fill="#f0f"/><path d="M993.5 59.2L1010.5 59.2L1002 74.2Z" fill="#f0f"/><polyline points="116.9,403.6 123.4,403.6 129.9,403.5 136.4,403.5 142.9,403.4 149.4,403.4 155.9,403.3 162.4,403.3 168.9,403.2 175.4,403.2 181.9,403.1 188.4,403.1 194.9,403 201.4,403 207.9,402.9 214.4,402.8 220.9,402.7 227.4,402.6 233.9,402.5 240.4,402.4 246.9,402.3 253.4,402.2 259.9,402.1 266.4,402 272.9,401.9 279.4,401.8 285.9,401.7 292.4,401.6 298.9,401.5 305.4,401.4 311.9,401.3 318.4,401.2 324.9,401.1 331.4,401 337.9,400.9 344.4,400.7 350.9,400.6 357.4,400.5 363.9,400.4 370.4,400.3 376.9,400.2 383.4,400.1 389.9,400 396.4,399.9 402.9,399.6 409.4,399.3 415.9,398.9 422.4,398.5 428.9,398.1 435.4,397.7 441.9,397.4 448.4,397 454.9,396.6 461.4,396.2 467.9,395.9 474.4,395.5 480.9,395.1 487.4,394.7 493.9,394.4 500.4,394 506.9,393.3 513.4,392.6 519.9,391.9 526.4,391.3 532.9,390.6 540.3,389.2 547.7,387.8 555.1,386.4 562.5,385 569.9,383.4 577.3,381.8 584.7,379.7 592.1,376.9 599.5,373.8 606.9,370.1 609.9,367.4 612.9,364.6 615.9,361.5 618.9,358.3 621.9,355.4 624.9,352.5 627.9,349.6 633.6,342.4 640,328.3 647.5,310 653.6,284 661,242.4 669,194 683.6,116 690,95.6 705,78 714,75 723,72 732,70 741,69 750,68 759,66.5 768,65.6 777,64.8 786,64.3 795,64 804,63.8 813,63.8 822,63.8 831,63.8 840,63.8 849,63.8 858,63.8 867,63.8 876,63.8 885,63.8 894,63.8 903,63.8 912,63.8 921,63.8 930,63.8 939,63.8 948,63.8 957,63.8 966,63.8 975,63.8 984,63.8 993,63.8 1002,63.8" fill="none" stroke="#008000" stroke-width="3.1" stroke-linejoin="round"/><path d="M108.4 403.6L116.9 394.9L125.4 403.6L116.9 412.3Z" fill="#800080"/><path d="M114.9 403.6L123.4 394.9L131.9 403.6L123.4 412.3Z" fill="#800080"/><path d="M121.4 403.5L129.9 394.8L138.4 403.5L129.9 412.2Z" fill="#800080"/><path d="M127.9 403.5L136.4 394.8L144.9 403.5L136.4 412.2Z" fill="#800080"/><path d="M134.4 403.4L142.9 394.7L151.4 403.4L142.9 412.1Z" fill="#800080"/><path d="M140.9 403.4L149.4 394.7L157.9 403.4L149.4 412.1Z" fill="#800080"/><path d="M147.4 403.3L155.9 394.6L164.4 403.3L155.9 412Z" fill="#800080"/><path d="M153.9 403.3L162.4 394.6L170.9 403.3L162.4 412Z" fill="#800080"/><path d="M160.4 403.2L168.9 394.5L177.4 403.2L168.9 411.9Z" fill="#800080"/><path d="M166.9 403.2L175.4 394.5L183.9 403.2L175.4 411.9Z" fill="#800080"/><path d="M173.4 403.1L181.9 394.4L190.4 403.1L181.9 411.8Z" fill="#800080"/><path d="M179.9 403.1L188.4 394.4L196.9 403.1L188.4 411.8Z" fill="#800080"/><path d="M186.4 403L194.9 394.3L203.4 403L194.9 411.7Z" fill="#800080"/><path d="M192.9 403L201.4 394.3L209.9 403L201.4 411.7Z" fill="#800080"/><path d="M199.4 402.9L207.9 394.2L216.4 402.9L207.9 411.6Z" fill="#800080"/><path d="M205.9 402.8L214.4 394.1L222.9 402.8L214.4 411.5Z" fill="#800080"/><path d="M212.4 402.7L220.9 394L229.4 402.7L220.9 411.4Z" fill="#800080"/><path d="M218.9 402.6L227.4 393.9L235.9 402.6L227.4 411.3Z" fill="#800080"/><path d="M225.4 402.5L233.9 393.8L242.4 402.5L233.9 411.2Z" fill="#800080"/><path d="M231.9 402.4L240.4 393.7L248.9 402.4L240.4 411.1Z" fill="#800080"/><path d="M238.4 402.3L246.9 393.6L255.4 402.3L246.9 411Z" fill="#800080"/><path d="M244.9 402.2L253.4 393.5L261.9 402.2L253.4 410.9Z" fill="#800080"/><path d="M251.4 402.1L259.9 393.4L268.4 402.1L259.9 410.8Z" fill="#800080"/><path d="M257.9 402L266.4 393.3L274.9 402L266.4 410.7Z" fill="#800080"/><path d="M264.4 401.9L272.9 393.2L281.4 401.9L272.9 410.6Z" fill="#800080"/><path d="M270.9 401.8L279.4 393.1L287.9 401.8L279.4 410.5Z" fill="#800080"/><path d="M277.4 401.7L285.9 393L294.4 401.7L285.9 410.4Z" fill="#800080"/><path d="M283.9 401.6L292.4 392.9L300.9 401.6L292.4 410.3Z" fill="#800080"/><path d="M290.4 401.5L298.9 392.8L307.4 401.5L298.9 410.2Z" fill="#800080"/><path d="M296.9 401.4L305.4 392.7L313.9 401.4L305.4 410.1Z" fill="#800080"/><path d="M303.4 401.3L311.9 392.6L320.4 401.3L311.9 410Z" fill="#800080"/><path d="M309.9 401.2L318.4 392.5L326.9 401.2L318.4 409.9Z" fill="#800080"/><path d="M316.4 401.1L324.9 392.4L333.4 401.1L324.9 409.8Z" fill="#800080"/><path d="M322.9 401L331.4 392.3L339.9 401L331.4 409.7Z" fill="#800080"/><path d="M329.4 400.9L337.9 392.2L346.4 400.9L337.9 409.6Z" fill="#800080"/><path d="M335.9 400.7L344.4 392L352.9 400.7L344.4 409.4Z" fill="#800080"/><path d="M342.4 400.6L350.9 391.9L359.4 400.6L350.9 409.3Z" fill="#800080"/><path d="M348.9 400.5L357.4 391.8L365.9 400.5L357.4 409.2Z" fill="#800080"/><path d="M355.4 400.4L363.9 391.7L372.4 400.4L363.9 409.1Z" fill="#800080"/><path d="M361.9 400.3L370.4 391.6L378.9 400.3L370.4 409Z" fill="#800080"/><path d="M368.4 400.2L376.9 391.5L385.4 400.2L376.9 408.9Z" fill="#800080"/><path d="M374.9 400.1L383.4 391.4L391.9 400.1L383.4 408.8Z" fill="#800080"/><path d="M381.4 400L389.9 391.3L398.4 400L389.9 408.7Z" fill="#800080"/><path d="M387.9 399.9L396.4 391.2L404.9 399.9L396.4 408.6Z" fill="#800080"/><path d="M394.4 399.6L402.9 390.9L411.4 399.6L402.9 408.3Z" fill="#800080"/><path d="M400.9 399.3L409.4 390.6L417.9 399.3L409.4 408Z" fill="#800080"/><path d="M407.4 398.9L415.9 390.2L424.4 398.9L415.9 407.6Z" fill="#800080"/><path d="M413.9 398.5L422.4 389.8L430.9 398.5L422.4 407.2Z" fill="#800080"/><path d="M420.4 398.1L428.9 389.4L437.4 398.1L428.9 406.8Z" fill="#800080"/><path d="M426.9 397.7L435.4 389L443.9 397.7L435.4 406.4Z" fill="#800080"/><path d="M433.4 397.4L441.9 388.7L450.4 397.4L441.9 406.1Z" fill="#800080"/><path d="M439.9 397L448.4 388.3L456.9 397L448.4 405.7Z" fill="#800080"/><path d="M446.4 396.6L454.9 387.9L463.4 396.6L454.9 405.3Z" fill="#800080"/><path d="M452.9 396.2L461.4 387.5L469.9 396.2L461.4 404.9Z" fill="#800080"/><path d="M459.4 395.9L467.9 387.2L476.4 395.9L467.9 404.6Z" fill="#800080"/><path d="M465.9 395.5L474.4 386.8L482.9 395.5L474.4 404.2Z" fill="#800080"/><path d="M472.4 395.1L480.9 386.4L489.4 395.1L480.9 403.8Z" fill="#800080"/><path d="M478.9 394.7L487.4 386L495.9 394.7L487.4 403.4Z" fill="#800080"/><path d="M485.4 394.4L493.9 385.7L502.4 394.4L493.9 403.1Z" fill="#800080"/><path d="M491.9 394L500.4 385.3L508.9 394L500.4 402.7Z" fill="#800080"/><path d="M498.4 393.3L506.9 384.6L515.4 393.3L506.9 402Z" fill="#800080"/><path d="M504.9 392.6L513.4 383.9L521.9 392.6L513.4 401.3Z" fill="#800080"/><path d="M511.4 391.9L519.9 383.2L528.4 391.9L519.9 400.6Z" fill="#800080"/><path d="M517.9 391.3L526.4 382.6L534.9 391.3L526.4 400Z" fill="#800080"/><path d="M524.4 390.6L532.9 381.9L541.4 390.6L532.9 399.3Z" fill="#800080"/><path d="M531.8 389.2L540.3 380.5L548.8 389.2L540.3 397.9Z" fill="#800080"/><path d="M539.2 387.8L547.7 379.1L556.2 387.8L547.7 396.5Z" fill="#800080"/><path d="M546.6 386.4L555.1 377.7L563.6 386.4L555.1 395.1Z" fill="#800080"/><path d="M554 385L562.5 376.3L571 385L562.5 393.7Z" fill="#800080"/><path d="M561.4 383.4L569.9 374.7L578.4 383.4L569.9 392.1Z" fill="#800080"/><path d="M568.8 381.8L577.3 373.1L585.8 381.8L577.3 390.5Z" fill="#800080"/><path d="M576.2 379.7L584.7 371L593.2 379.7L584.7 388.4Z" fill="#800080"/><path d="M583.6 376.9L592.1 368.2L600.6 376.9L592.1 385.6Z" fill="#800080"/><path d="M591 373.8L599.5 365.1L608 373.8L599.5 382.5Z" fill="#800080"/><path d="M598.4 370.1L606.9 361.4L615.4 370.1L606.9 378.8Z" fill="#800080"/><path d="M601.4 367.4L609.9 358.7L618.4 367.4L609.9 376.1Z" fill="#800080"/><path d="M604.4 364.6L612.9 355.9L621.4 364.6L612.9 373.3Z" fill="#800080"/><path d="M607.4 361.5L615.9 352.8L624.4 361.5L615.9 370.2Z" fill="#800080"/><path d="M610.4 358.3L618.9 349.6L627.4 358.3L618.9 367Z" fill="#800080"/><path d="M613.4 355.4L621.9 346.7L630.4 355.4L621.9 364.1Z" fill="#800080"/><path d="M616.4 352.5L624.9 343.8L633.4 352.5L624.9 361.2Z" fill="#800080"/><path d="M619.4 349.6L627.9 340.9L636.4 349.6L627.9 358.3Z" fill="#800080"/><path d="M625.1 342.4L633.6 333.7L642.1 342.4L633.6 351.1Z" fill="#800080"/><path d="M631.5 328.3L640 319.6L648.5 328.3L640 337Z" fill="#800080"/><path d="M639 310L647.5 301.3L656 310L647.5 318.7Z" fill="#800080"/><path d="M645.1 284L653.6 275.3L662.1 284L653.6 292.7Z" fill="#800080"/><path d="M652.5 242.4L661 233.7L669.5 242.4L661 251.1Z" fill="#800080"/><path d="M660.5 194L669 185.3L677.5 194L669 202.7Z" fill="#800080"/><path d="M675.1 116L683.6 107.3L692.1 116L683.6 124.7Z" fill="#800080"/><path d="M681.5 95.6L690 86.9L698.5 95.6L690 104.3Z" fill="#800080"/><path d="M696.5 78L705 69.3L713.5 78L705 86.7Z" fill="#800080"/><path d="M705.5 75L714 66.3L722.5 75L714 83.7Z" fill="#800080"/><path d="M714.5 72L723 63.3L731.5 72L723 80.7Z" fill="#800080"/><path d="M723.5 70L732 61.3L740.5 70L732 78.7Z" fill="#800080"/><path d="M732.5 69L741 60.3L749.5 69L741 77.7Z" fill="#800080"/><path d="M741.5 68L750 59.3L758.5 68L750 76.7Z" fill="#800080"/><path d="M750.5 66.5L759 57.8L767.5 66.5L759 75.2Z" fill="#800080"/><path d="M759.5 65.6L768 56.9L776.5 65.6L768 74.3Z" fill="#800080"/><path d="M768.5 64.8L777 56.1L785.5 64.8L777 73.5Z" fill="#800080"/><path d="M777.5 64.3L786 55.6L794.5 64.3L786 73Z" fill="#800080"/><path d="M786.5 64L795 55.3L803.5 64L795 72.7Z" fill="#800080"/><path d="M795.5 63.8L804 55.1L812.5 63.8L804 72.5Z" fill="#800080"/><path d="M804.5 63.8L813 55.1L821.5 63.8L813 72.5Z" fill="#800080"/><path d="M813.5 63.8L822 55.1L830.5 63.8L822 72.5Z" fill="#800080"/><path d="M822.5 63.8L831 55.1L839.5 63.8L831 72.5Z" fill="#800080"/><path d="M831.5 63.8L840 55.1L848.5 63.8L840 72.5Z" fill="#800080"/><path d="M840.5 63.8L849 55.1L857.5 63.8L849 72.5Z" fill="#800080"/><path d="M849.5 63.8L858 55.1L866.5 63.8L858 72.5Z" fill="#800080"/><path d="M858.5 63.8L867 55.1L875.5 63.8L867 72.5Z" fill="#800080"/><path d="M867.5 63.8L876 55.1L884.5 63.8L876 72.5Z" fill="#800080"/><path d="M876.5 63.8L885 55.1L893.5 63.8L885 72.5Z" fill="#800080"/><path d="M885.5 63.8L894 55.1L902.5 63.8L894 72.5Z" fill="#800080"/><path d="M894.5 63.8L903 55.1L911.5 63.8L903 72.5Z" fill="#800080"/><path d="M903.5 63.8L912 55.1L920.5 63.8L912 72.5Z" fill="#800080"/><path d="M912.5 63.8L921 55.1L929.5 63.8L921 72.5Z" fill="#800080"/><path d="M921.5 63.8L930 55.1L938.5 63.8L930 72.5Z" fill="#800080"/><path d="M930.5 63.8L939 55.1L947.5 63.8L939 72.5Z" fill="#800080"/><path d="M939.5 63.8L948 55.1L956.5 63.8L948 72.5Z" fill="#800080"/><path d="M948.5 63.8L957 55.1L965.5 63.8L957 72.5Z" fill="#800080"/><path d="M957.5 63.8L966 55.1L974.5 63.8L966 72.5Z" fill="#800080"/><path d="M966.5 63.8L975 55.1L983.5 63.8L975 72.5Z" fill="#800080"/><path d="M975.5 63.8L984 55.1L992.5 63.8L984 72.5Z" fill="#800080"/><path d="M984.5 63.8L993 55.1L1001.5 63.8L993 72.5Z" fill="#800080"/><path d="M993.5 63.8L1002 55.1L1010.5 63.8L1002 72.5Z" fill="#800080"/><polyline points="121,227.6 130.6,227.6 140.2,227.6 149.7,227.5 159.2,227.5 168.8,227.5 178.3,227.5 187.9,227.4 197.4,227.4 207,227.4 216.6,227.4 226.1,227.4 235.7,227.3 245.2,227.3 254.8,227.3 264.3,227.3 273.9,227.3 283.4,227.2 292.9,227.2 302.5,227.2 312.1,227.2 321.6,227.2 331.2,227.1 340.7,227.1 350.2,227.1 359.8,227.1 369.4,227.1 378.9,227 388.5,227 398,227 407.6,226.8 417.1,226.7 426.7,226.5 436.2,226.3 445.8,226.1 455.3,225.7 464.9,225.2 474.4,224.6 484,224.1 493.5,223 503.1,221.8 512.6,220.8 522.1,220 531.7,219.3 541.2,217.4 550.8,215 560.4,212 569.9,208.2 579.5,202.2 589,196.2 598.6,186.3 608.1,174.9 617.6,156.3 627.2,137.6 636.8,121.1 646.3,105.2 655.9,91.6 665.4,77.9 675,65.2 684.5,64.2 694,64.2 703.6,64.2 713.1,64.2 722.7,64.2 732.2,64.2 741.8,64.2 751.4,64.2 760.9,64.2 770.5,64.2 780,64.2 789.5,64.2 799.1,64.2 808.6,64.2 818.2,64.2 827.8,64.2 837.3,64.2 846.9,64.2 856.4,64.2 866,64.2 875.5,64.2 885,64.2 894.6,64.2 904.1,64.2 913.7,64.2 923.2,64.2 932.8,64.2 942.4,64.2 951.9,64.2 961.5,64.2 971,64.2 980.6,64.2 990.1,64.2 999.6,64.2 1009.2,64.2" fill="none" stroke="#000080" stroke-width="3.1" stroke-linejoin="round"/><path d="M128.3 219.2L128.3 236L113.8 227.6Z" fill="#008000"/><path d="M137.8 219.2L137.8 236L123.3 227.6Z" fill="#008000"/><path d="M147.4 219.2L147.4 236L132.9 227.6Z" fill="#008000"/><path d="M156.9 219.1L156.9 235.9L142.4 227.5Z" fill="#008000"/><path d="M166.5 219.1L166.5 235.9L152 227.5Z" fill="#008000"/><path d="M176.1 219.1L176.1 235.9L161.6 227.5Z" fill="#008000"/><path d="M185.6 219.1L185.6 235.9L171.1 227.5Z" fill="#008000"/><path d="M195.2 219L195.2 235.8L180.7 227.4Z" fill="#008000"/><path d="M204.7 219L204.7 235.8L190.2 227.4Z" fill="#008000"/><path d="M214.2 219L214.2 235.8L199.8 227.4Z" fill="#008000"/><path d="M223.8 219L223.8 235.8L209.3 227.4Z" fill="#008000"/><path d="M233.4 219L233.4 235.8L218.9 227.4Z" fill="#008000"/><path d="M242.9 218.9L242.9 235.7L228.4 227.3Z" fill="#008000"/><path d="M252.4 218.9L252.4 235.7L237.9 227.3Z" fill="#008000"/><path d="M262 218.9L262 235.7L247.5 227.3Z" fill="#008000"/><path d="M271.6 218.9L271.6 235.7L257.1 227.3Z" fill="#008000"/><path d="M281.1 218.9L281.1 235.7L266.6 227.3Z" fill="#008000"/><path d="M290.7 218.8L290.7 235.6L276.2 227.2Z" fill="#008000"/><path d="M300.2 218.8L300.2 235.6L285.7 227.2Z" fill="#008000"/><path d="M309.8 218.8L309.8 235.6L295.2 227.2Z" fill="#008000"/><path d="M319.3 218.8L319.3 235.6L304.8 227.2Z" fill="#008000"/><path d="M328.9 218.8L328.9 235.6L314.4 227.2Z" fill="#008000"/><path d="M338.4 218.7L338.4 235.5L323.9 227.1Z" fill="#008000"/><path d="M347.9 218.7L347.9 235.5L333.4 227.1Z" fill="#008000"/><path d="M357.5 218.7L357.5 235.5L343 227.1Z" fill="#008000"/><path d="M367.1 218.7L367.1 235.5L352.6 227.1Z" fill="#008000"/><path d="M376.6 218.7L376.6 235.5L362.1 227.1Z" fill="#008000"/><path d="M386.2 218.6L386.2 235.4L371.7 227Z" fill="#008000"/><path d="M395.7 218.6L395.7 235.4L381.2 227Z" fill="#008000"/><path d="M405.3 218.6L405.3 235.4L390.8 227Z" fill="#008000"/><path d="M414.8 218.4L414.8 235.2L400.3 226.8Z" fill="#008000"/><path d="M424.4 218.3L424.4 235.1L409.9 226.7Z" fill="#008000"/><path d="M433.9 218.1L433.9 234.9L419.4 226.5Z" fill="#008000"/><path d="M443.5 217.9L443.5 234.7L429 226.3Z" fill="#008000"/><path d="M453 217.7L453 234.5L438.5 226.1Z" fill="#008000"/><path d="M462.6 217.3L462.6 234.1L448.1 225.7Z" fill="#008000"/><path d="M472.1 216.8L472.1 233.6L457.6 225.2Z" fill="#008000"/><path d="M481.7 216.2L481.7 233L467.2 224.6Z" fill="#008000"/><path d="M491.2 215.7L491.2 232.5L476.7 224.1Z" fill="#008000"/><path d="M500.8 214.6L500.8 231.4L486.3 223Z" fill="#008000"/><path d="M510.3 213.4L510.3 230.2L495.8 221.8Z" fill="#008000"/><path d="M519.9 212.4L519.9 229.2L505.4 220.8Z" fill="#008000"/><path d="M529.4 211.6L529.4 228.4L514.9 220Z" fill="#008000"/><path d="M539 210.9L539 227.7L524.5 219.3Z" fill="#008000"/><path d="M548.5 209L548.5 225.8L534 217.4Z" fill="#008000"/><path d="M558.1 206.6L558.1 223.4L543.6 215Z" fill="#008000"/><path d="M567.6 203.6L567.6 220.4L553.1 212Z" fill="#008000"/><path d="M577.1 199.8L577.1 216.6L562.6 208.2Z" fill="#008000"/><path d="M586.7 193.8L586.7 210.6L572.2 202.2Z" fill="#008000"/><path d="M596.2 187.8L596.2 204.6L581.8 196.2Z" fill="#008000"/><path d="M605.8 177.9L605.8 194.7L591.3 186.3Z" fill="#008000"/><path d="M615.4 166.5L615.4 183.3L600.9 174.9Z" fill="#008000"/><path d="M624.9 147.9L624.9 164.7L610.4 156.3Z" fill="#008000"/><path d="M634.5 129.2L634.5 146L620 137.6Z" fill="#008000"/><path d="M644 112.7L644 129.5L629.5 121.1Z" fill="#008000"/><path d="M653.5 96.8L653.5 113.6L639 105.2Z" fill="#008000"/><path d="M663.1 83.2L663.1 100L648.6 91.6Z" fill="#008000"/><path d="M672.6 69.5L672.6 86.3L658.1 77.9Z" fill="#008000"/><path d="M682.2 56.8L682.2 73.6L667.7 65.2Z" fill="#008000"/><path d="M691.8 55.8L691.8 72.6L677.2 64.2Z" fill="#008000"/><path d="M701.3 55.8L701.3 72.6L686.8 64.2Z" fill="#008000"/><path d="M710.9 55.8L710.9 72.6L696.4 64.2Z" fill="#008000"/><path d="M720.4 55.8L720.4 72.6L705.9 64.2Z" fill="#008000"/><path d="M730 55.8L730 72.6L715.5 64.2Z" fill="#008000"/><path d="M739.5 55.8L739.5 72.6L725 64.2Z" fill="#008000"/><path d="M749 55.8L749 72.6L734.5 64.2Z" fill="#008000"/><path d="M758.6 55.8L758.6 72.6L744.1 64.2Z" fill="#008000"/><path d="M768.1 55.8L768.1 72.6L753.6 64.2Z" fill="#008000"/><path d="M777.7 55.8L777.7 72.6L763.2 64.2Z" fill="#008000"/><path d="M787.2 55.8L787.2 72.6L772.8 64.2Z" fill="#008000"/><path d="M796.8 55.8L796.8 72.6L782.3 64.2Z" fill="#008000"/><path d="M806.4 55.8L806.4 72.6L791.9 64.2Z" fill="#008000"/><path d="M815.9 55.8L815.9 72.6L801.4 64.2Z" fill="#008000"/><path d="M825.5 55.8L825.5 72.6L811 64.2Z" fill="#008000"/><path d="M835 55.8L835 72.6L820.5 64.2Z" fill="#008000"/><path d="M844.5 55.8L844.5 72.6L830 64.2Z" fill="#008000"/><path d="M854.1 55.8L854.1 72.6L839.6 64.2Z" fill="#008000"/><path d="M863.6 55.8L863.6 72.6L849.1 64.2Z" fill="#008000"/><path d="M873.2 55.8L873.2 72.6L858.7 64.2Z" fill="#008000"/><path d="M882.8 55.8L882.8 72.6L868.2 64.2Z" fill="#008000"/><path d="M892.3 55.8L892.3 72.6L877.8 64.2Z" fill="#008000"/><path d="M901.9 55.8L901.9 72.6L887.4 64.2Z" fill="#008000"/><path d="M911.4 55.8L911.4 72.6L896.9 64.2Z" fill="#008000"/><path d="M921 55.8L921 72.6L906.5 64.2Z" fill="#008000"/><path d="M930.5 55.8L930.5 72.6L916 64.2Z" fill="#008000"/><path d="M940.1 55.8L940.1 72.6L925.6 64.2Z" fill="#008000"/><path d="M949.6 55.8L949.6 72.6L935.1 64.2Z" fill="#008000"/><path d="M959.1 55.8L959.1 72.6L944.6 64.2Z" fill="#008000"/><path d="M968.7 55.8L968.7 72.6L954.2 64.2Z" fill="#008000"/><path d="M978.2 55.8L978.2 72.6L963.8 64.2Z" fill="#008000"/><path d="M987.8 55.8L987.8 72.6L973.3 64.2Z" fill="#008000"/><path d="M997.4 55.8L997.4 72.6L982.9 64.2Z" fill="#008000"/><path d="M1006.9 55.8L1006.9 72.6L992.4 64.2Z" fill="#008000"/><path d="M1016.5 55.8L1016.5 72.6L1002 64.2Z" fill="#008000"/></g><path d="M720.4 186.5H781.8" stroke="#000" stroke-width="2.1" stroke-linecap="round"/><path d="M720.4 220.7H781.8" stroke="#f00" stroke-width="2.8" stroke-linecap="round"/><path d="M720.4 255.3H781.8" stroke="#00f" stroke-width="2.8" stroke-linecap="round"/><path d="M720.4 289.9H781.8" stroke="#f0f" stroke-width="2.8" stroke-linecap="round"/><path d="M720.4 324.1H781.8" stroke="#008000" stroke-width="2.8" stroke-linecap="round"/><path d="M720.4 360H781.8" stroke="#000080" stroke-width="2.8" stroke-linecap="round"/><rect x="744.9" y="180.4" width="12.2" height="12.2" fill="#000"/><circle cx="751" cy="220.8" r="7" fill="#f00"/><path d="M742.7 260.5L759.3 260.5L751 246.5Z" fill="#00f"/><path d="M742.7 285.5L759.3 285.5L751 299.8Z" fill="#f0f"/><path d="M742.6 324.3L751.1 315.7L759.6 324.3L751.1 332.9Z" fill="#800080"/><path d="M757.1 351.6L757.1 368.4L742.4 360Z" fill="#008000"/><path d="M185.46 1263.11L310.22 1258.57M328.77 1257.34L453.59 1245.4M466.04 1235.78L531.33 1057.32M539.72 1040.88L672.66 844.03M684.56 842.77L814.5 967.68" fill="none" stroke="#000" stroke-width="2.1" stroke-linecap="round"/><rect x="170" y="1257.3" width="12.4" height="12.4" fill="#000"/><rect x="313.3" y="1252" width="12.4" height="12.4" fill="#000"/><rect x="456.7" y="1238.3" width="12.4" height="12.4" fill="#000"/><rect x="528.3" y="1042.4" width="12.4" height="12.4" fill="#000"/><rect x="671.7" y="830.1" width="12.4" height="12.4" fill="#000"/><rect x="815" y="967.9" width="12.4" height="12.4" fill="#000"/><path d="M184.06 1260.92L311.62 1219.15M322.55 1208.85L459.81 860.38M470.42 849.25L526.95 823.76M541.65 824.6L670.73 901.61M681.03 913.53L818.03 1245.13" fill="none" stroke="#00f" stroke-width="2.3" stroke-linecap="round"/><path d="M169 1263.5L176.2 1256.3L183.4 1263.5L176.2 1270.7Z" fill="#fff" stroke="#00f" stroke-width="1.4"/><path d="M312.3 1216.6L319.5 1209.4L326.7 1216.6L319.5 1223.8Z" fill="#fff" stroke="#00f" stroke-width="1.4"/><path d="M455.7 852.7L462.9 845.5L470.1 852.7L462.9 859.9Z" fill="#fff" stroke="#00f" stroke-width="1.4"/><path d="M527.3 820.3L534.5 813.1L541.7 820.3L534.5 827.5Z" fill="#fff" stroke="#00f" stroke-width="1.4"/><path d="M670.7 905.9L677.9 898.7L685.1 905.9L677.9 913.1Z" fill="#fff" stroke="#00f" stroke-width="1.4"/><path d="M814 1252.8L821.2 1245.6L828.4 1252.8L821.2 1260Z" fill="#fff" stroke="#00f" stroke-width="1.4"/><path d="M104.5 1338.1V749.2H892.9M103 1336.6H892.9" stroke="#000" stroke-width="3" fill="none"/><path d="M104.5 1271.3h7M104.5 1206h12M104.5 1140.7h7M104.5 1075.4h12M104.5 1010h7M104.5 944.7h12M104.5 879.4h7M104.5 814.1h12M176.2 1336.6v-7M176.2 749.2v7M247.8 1336.6v-12M247.8 749.2v12M319.5 1336.6v-7M319.5 749.2v7M391.2 1336.6v-12M391.2 749.2v12M462.9 1336.6v-7M462.9 749.2v7M534.5 1336.6v-12M534.5 749.2v12M606.2 1336.6v-7M606.2 749.2v7M677.9 1336.6v-12M677.9 749.2v12M749.5 1336.6v-7M749.5 749.2v7M821.2 1336.6v-12M821.2 749.2v12" stroke="#000" stroke-width="3" fill="none"/><path d="M892.9 747.7V1338.1" stroke="#00f" stroke-width="3" fill="none"/><path d="M892.9 1336.7h-7M892.9 1271.4h-12M892.9 1206.1h-7M892.9 1140.9h-12M892.9 1075.6h-7M892.9 1010.3h-12M892.9 945h-7M892.9 879.8h-12M892.9 814.5h-7M892.9 749.2h-12" stroke="#00f" stroke-width="2.4" fill="none"/><path d="M223.6 807.5H246.6M263.6 807.5H286.8" stroke="#000" stroke-width="2.1" stroke-linecap="round"/><rect x="248.9" y="801.1" width="12.4" height="12.4" fill="#000"/><path d="M226.5 868.6H250M266 868.6H290" stroke="#00f" stroke-width="2.3" stroke-linecap="round"/><path d="M250.8 868.9L258 861.7L265.2 868.9L258 876.1Z" fill="#fff" stroke="#00f" stroke-width="1.4"/><g font-family="Liberation Sans, Noto Serif CJK SC, sans-serif" font-weight="700" fill="#000" stroke="#000" stroke-width="0.45" stroke-linejoin="round"><text x="98.3" y="68.8" font-size="29.3" text-anchor="end" >0.0</text><text x="98.3" y="190.8" font-size="29.3" text-anchor="end" >-0.2</text><text x="98.3" y="312.8" font-size="29.3" text-anchor="end" >-0.4</text><text x="98.3" y="434.8" font-size="29.3" text-anchor="end" >-0.6</text><text x="98.3" y="556.8" font-size="29.3" text-anchor="end" >-0.8</text><text x="118" y="641" font-size="32.4" text-anchor="middle" >9</text><text x="297.7" y="641" font-size="32.4" text-anchor="middle" >11</text><text x="477.4" y="641" font-size="32.4" text-anchor="middle" >13</text><text x="657" y="641" font-size="32.4" text-anchor="middle" >15</text><text x="836.7" y="641" font-size="32.4" text-anchor="middle" >17</text><text transform="translate(530.46 683.5) scale(0.9700 1)" font-size="32" ><tspan font-style="italic">T</tspan> (K)</text><text transform="translate(131.47 49.8) scale(1.0132 1)" font-size="34.5" font-weight="400" stroke-width="0.15">(a)</text><text transform="translate(28.6 403.9) rotate(-90) scale(0.9481 1)" font-size="32" ><tspan font-style="italic">M</tspan></text><text transform="translate(28.6 371.02) rotate(-90) scale(1.0168 1)" font-size="32" >(emu/g)</text><text transform="translate(789.53 195.4) scale(0.9721 1)" font-size="26.6" >850</text><text transform="translate(836 196.2) scale(1.0000 1)" font-size="25" font-family="Liberation Sans, IPAGothic, sans-serif" font-weight="400" stroke-width="0">℃</text><text transform="translate(869.79 195.4) scale(1.0059 1)" font-size="26.6" >(X10<tspan font-style="italic">M</tspan>)</text><text transform="translate(789.53 229.7) scale(0.9721 1)" font-size="26.6" >950</text><text transform="translate(836 230.5) scale(1.0000 1)" font-size="25" font-family="Liberation Sans, IPAGothic, sans-serif" font-weight="400" stroke-width="0">℃</text><text transform="translate(869.79 229.7) scale(1.0059 1)" font-size="26.6" >(X10<tspan font-style="italic">M</tspan>)</text><text transform="translate(791.04 264) scale(0.9649 1)" font-size="26.6" >1050</text><text transform="translate(851 264.8) scale(1.0000 1)" font-size="25" font-family="Liberation Sans, IPAGothic, sans-serif" font-weight="400" stroke-width="0">℃</text><text transform="translate(791.02 298) scale(0.9821 1)" font-size="26.6" >1100</text><text transform="translate(851 298.8) scale(1.0000 1)" font-size="25" font-family="Liberation Sans, IPAGothic, sans-serif" font-weight="400" stroke-width="0">℃</text><text transform="translate(791.04 332) scale(0.9649 1)" font-size="26.6" >1200</text><text transform="translate(851 332.8) scale(1.0000 1)" font-size="25" font-family="Liberation Sans, IPAGothic, sans-serif" font-weight="400" stroke-width="0">℃</text><text transform="translate(791.04 367) scale(0.9649 1)" font-size="26.6" >1300</text><text transform="translate(851 367.8) scale(1.0000 1)" font-size="25" font-family="Liberation Sans, IPAGothic, sans-serif" font-weight="400" stroke-width="0">℃</text><text transform="translate(886 367) scale(1.0000 1)" font-size="26.6" >(X10<tspan font-style="italic">M</tspan>)</text><text transform="translate(764 429) scale(1.1043 1)" font-size="24" >ZFC</text><text transform="translate(731.5 463.4) scale(1.1045 1)" font-size="24" ><tspan font-style="italic">H</tspan> = 20 Oe</text><text transform="translate(730.38 522.5) scale(1.1182 1)" font-size="24" >Nb<tspan dy="11.2" font-size="24.6">3</tspan><tspan dy="-11.2" font-size="1">&#8203;</tspan>(Al<tspan dy="11.2" font-size="24.6">1-<tspan font-style="italic">x</tspan></tspan><tspan dy="-11.2" font-size="1">&#8203;</tspan>Ge<tspan dy="11.2" font-size="24.6"><tspan font-style="italic">x</tspan></tspan><tspan dy="-11.2" font-size="1">&#8203;</tspan>)</text><text transform="translate(783.59 566) scale(1.0924 1)" font-size="24" ><tspan font-style="italic">X</tspan> = 25%</text><text x="91.3" y="1344.5" font-size="29.3" text-anchor="end" >10</text><text x="91.3" y="1213.9" font-size="29.3" text-anchor="end" >12</text><text x="91.3" y="1083.3" font-size="29.3" text-anchor="end" >14</text><text x="91.3" y="952.6" font-size="29.3" text-anchor="end" >16</text><text x="91.3" y="822" font-size="29.3" text-anchor="end" >18</text><text x="103.9" y="1372.4" font-size="29.3" text-anchor="middle" >800</text><text x="247.2" y="1372.4" font-size="29.3" text-anchor="middle" >900</text><text x="390.6" y="1372.4" font-size="29.3" text-anchor="middle" >1000</text><text x="533.9" y="1372.4" font-size="29.3" text-anchor="middle" >1100</text><text x="677.3" y="1372.4" font-size="29.3" text-anchor="middle" >1200</text><text x="820.6" y="1372.4" font-size="29.3" text-anchor="middle" >1300</text><text x="904.8" y="1279.4" font-size="29.3" text-anchor="start" fill="#00f" stroke="#00f">0.0</text><text x="904.8" y="1148.9" font-size="29.3" text-anchor="start" fill="#00f" stroke="#00f">0.2</text><text x="904.8" y="1018.3" font-size="29.3" text-anchor="start" fill="#00f" stroke="#00f">0.4</text><text x="904.8" y="887.8" font-size="29.3" text-anchor="start" fill="#00f" stroke="#00f">0.6</text><text x="904.8" y="757.2" font-size="29.3" text-anchor="start" fill="#00f" stroke="#00f">0.8</text><text transform="translate(131.89 820.3) scale(1.0026 1)" font-size="34.5" font-weight="400" stroke-width="0.15">(b)</text><text transform="translate(37.2 1112.26) rotate(-90) scale(0.8810 1)" font-size="33" ><tspan font-style="italic">T</tspan></text><text transform="translate(48.3 1096.43) rotate(-90) scale(1.0250 1)" font-size="25" >C</text><text transform="translate(37.2 1066.85) rotate(-90) scale(1.0535 1)" font-size="33" >(K)</text><text transform="translate(990.3 1169.02) rotate(-90) scale(1.0222 1)" font-size="30" font-weight="400" stroke-width="0.15">Δ</text><text transform="translate(990.3 1144.8) rotate(-90) scale(0.9607 1)" font-size="33" ><tspan font-style="italic">M</tspan></text><text transform="translate(990.3 1084.41) rotate(-90) scale(1.0094 1)" font-size="33" >(emu/g)</text><text transform="translate(296.95 817.1) scale(0.9263 1)" font-size="30" ><tspan font-style="italic">T</tspan></text><text transform="translate(312.47 827.8) scale(1.2308 1)" font-size="20.6" >C</text><text transform="translate(298.25 877.7) scale(1.0529 1)" font-size="28" font-weight="400" stroke-width="0.15">Δ</text><text transform="translate(322.8 877.6) scale(0.9920 1)" font-size="29" ><tspan font-style="italic">M</tspan></text><text transform="translate(170.47 963.6) scale(1.1321 1)" font-size="24" >Nb<tspan dy="11.2" font-size="24.6">3</tspan><tspan dy="-11.2" font-size="1">&#8203;</tspan>(Al<tspan dy="11.2" font-size="24.6">1-<tspan font-style="italic">x</tspan></tspan><tspan dy="-11.2" font-size="1">&#8203;</tspan>Ge<tspan dy="11.2" font-size="24.6"><tspan font-style="italic">x</tspan></tspan><tspan dy="-11.2" font-size="1">&#8203;</tspan>)</text><text transform="translate(216.7 1009.8) scale(1.0957 1)" font-size="24" ><tspan font-style="italic">X</tspan> = 25%</text><text transform="translate(490.48 1418.5) scale(0.9579 1)" font-size="31" ><tspan font-style="italic">T</tspan></text><text transform="translate(507.8 1425.9) scale(0.9462 1)" font-size="20.3" >S</text><text transform="translate(528.93 1418.5) scale(0.9667 1)" font-size="31" >(</text><text transform="translate(540.06 1419.3) scale(1.0208 1)" font-size="29" font-family="Liberation Sans, IPAGothic, sans-serif" font-weight="400" stroke-width="0">℃</text><text transform="translate(572.9 1418.5) scale(0.8556 1)" font-size="31" >)</text></g></svg></div></body></html>
